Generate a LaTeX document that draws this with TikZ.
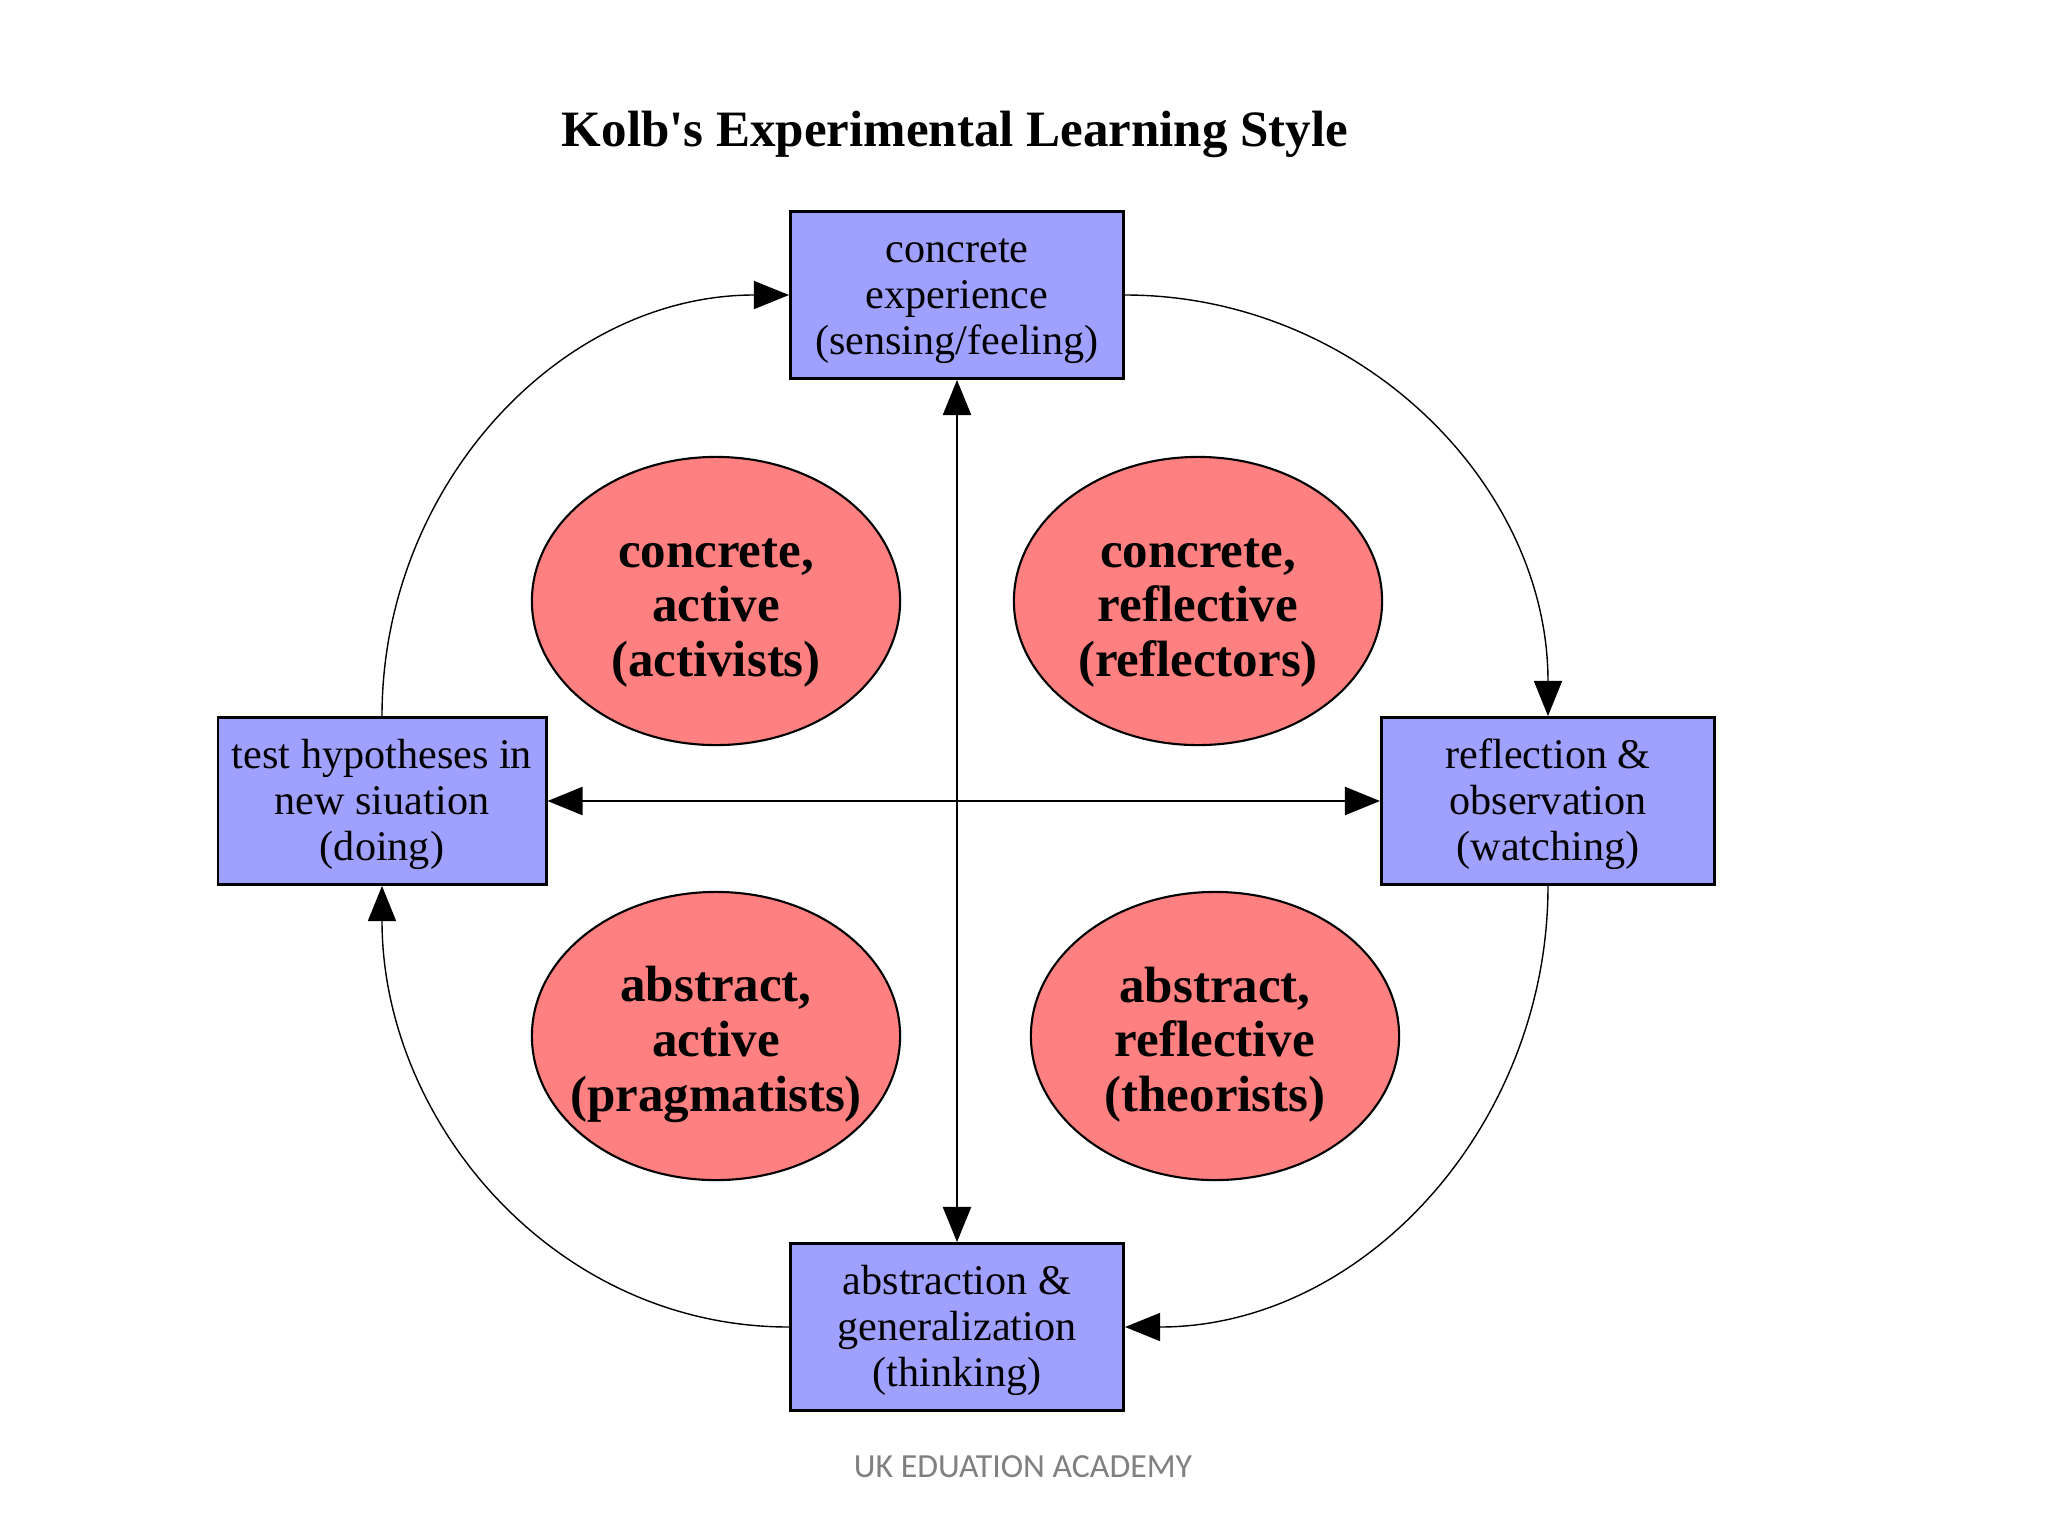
\documentclass[tikz,border=0pt]{standalone}
\usepackage{fontspec}
\setmainfont{Liberation Serif}
\newfontfamily\footfont{Carlito}
\usetikzlibrary{arrows.meta, shapes.geometric}

\begin{document}
\begin{tikzpicture}[x=0.01cm, y=-0.01cm,
  stagebox/.style={draw, line width=0.8pt, fill=stageblue, minimum width=3.33cm,
    minimum height=1.67cm, inner sep=0pt, align=center,
    font=\fontsize{12}{13.1}\selectfont},
  stylebubble/.style={ellipse, draw, line width=0.6pt, fill=stylered,
    minimum width=3.68cm, minimum height=2.88cm, inner sep=-1cm, align=center,
    font=\bfseries\fontsize{14.5}{15.6}\selectfont},
  cyclearrow/.style={line width=0.4pt, -{Triangle[length=10pt, width=8pt]}},
  crossarrow/.style={line width=0.6pt,
    {Triangle[length=10pt, width=8pt]}-{Triangle[length=10pt, width=8pt]}}]

  % Define colors
  \definecolor{stageblue}{RGB}{160, 160, 255}
  \definecolor{stylered}{RGB}{255, 128, 128}

  % Struts that set the first line a little lower
  \def\boxtop{\rule{0pt}{10.5pt}}
  \def\bubbletop{\rule{0pt}{15pt}}

  % Canvas (pixel units of the reference)
  \fill[white] (0,0) rectangle (2048,1536);
  \useasboundingbox (0,0) rectangle (2048,1536);

  % Title
  \node[font=\bfseries\fontsize{14.5}{17}\selectfont] (title) at (955,134)
    {Kolb\textquotesingle s Experimental Learning Style};

  % The four stages of the cycle
  \node[stagebox] (ce) at (957,295) {\boxtop concrete\\experience\\(sensing/feeling)};
  \node[stagebox] (ro) at (1548,801) {\boxtop reflection \&\\observation\\(watching)};
  \node[stagebox] (ac) at (957,1327) {\boxtop abstraction \&\\generalization\\(thinking)};
  \node[stagebox, minimum width=3.28cm] (ae) at (382,801) {\boxtop test hypotheses in\\new siuation\\(doing)};

  % The four learning styles
  \node[stylebubble] (activ) at (716,601) {\bubbletop concrete,\\active\\(activists)};
  \node[stylebubble] (refl)  at (1198,601) {\bubbletop concrete,\\reflective\\(reflectors)};
  \node[stylebubble] (prag)  at (716,1036) {\bubbletop abstract,\\active\\(pragmatists)};
  \node[stylebubble] (theo)  at (1215,1036) {\bubbletop abstract,\\reflective\\(theorists)};

  % Axes
  \draw[crossarrow] (ce.south) -- (ac.north);
  \draw[crossarrow] (ae.east) -- (ro.west);

  % Cycle
  \draw[cyclearrow] (ce.east) to[out=0, in=90] (ro.north);
  \draw[cyclearrow] (ro.south) to[out=-90, in=0] (ac.east);
  \draw[cyclearrow] (ac.west) to[out=180, in=-90] (ae.south);
  \draw[cyclearrow] (ae.north) to[out=90, in=180] (ce.west);

  % Footer
  \node[font=\footfont\fontsize{9.6}{11}\selectfont, text=black!50] (footer) at (1023,1467)
    {UK EDUATION ACADEMY};

\end{tikzpicture}
\end{document}
